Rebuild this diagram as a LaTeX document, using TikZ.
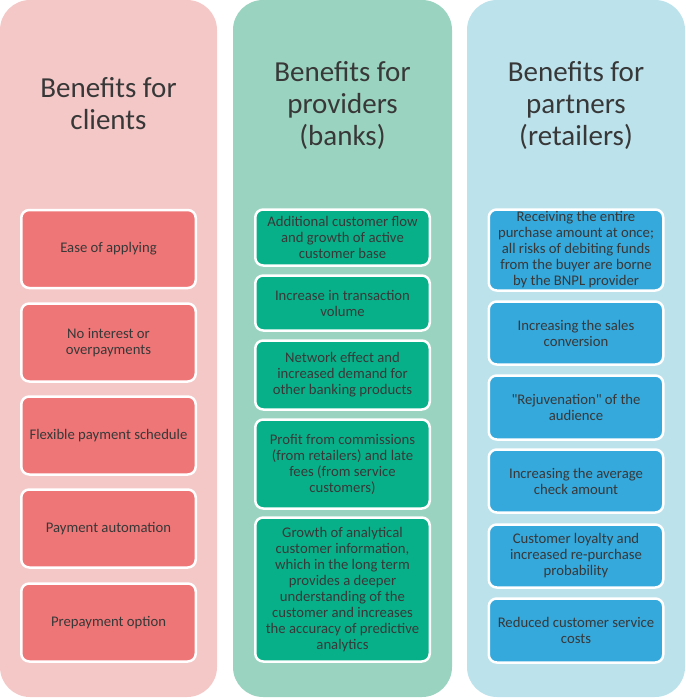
\documentclass[tikz,border=0pt]{standalone}
\usepackage{fontspec}
\setmainfont{Carlito}
\definecolor{clientbg}{HTML}{F5C8C8}
\definecolor{clientfg}{HTML}{EE7677}
\definecolor{bankbg}{HTML}{9AD3C0}
\definecolor{bankfg}{HTML}{08B089}
\definecolor{retailbg}{HTML}{BCE2EC}
\definecolor{retailfg}{HTML}{35A8DC}
\definecolor{inktext}{HTML}{383838}
\begin{document}
\begin{tikzpicture}[x=1pt,y=-1pt,
  panel/.style={rectangle,rounded corners=30pt,minimum width=217pt,minimum height=697pt,inner sep=0pt},
  heading/.style={align=center,text=inktext,font=\fontsize{29}{32}\selectfont},
  item/.style={rectangle,rounded corners=8pt,draw=white,line width=2.5pt,minimum width=174.5pt,
    align=center,text=inktext,inner sep=0pt,font=\fontsize{14.7}{16}\selectfont},
  clientbox/.style={item,fill=clientfg},
  bankbox/.style={item,fill=bankfg},
  retailbox/.style={item,fill=retailfg}]
\useasboundingbox (0,0) rectangle (685,698);
\node[panel,fill=clientbg] (clients) at (108.5,348.5) {};
\node[panel,fill=bankbg,minimum width=219pt] (banks) at (342.5,348.5) {};
\node[panel,fill=retailbg,minimum width=218pt] (retailers) at (576,348.5) {};
\node[heading] (clientstitle) at (108.5,103.5) {Benefits for\\clients};
\node[heading] (bankstitle) at (342.5,105) {Benefits for\\providers\\(banks)};
\node[heading] (retailerstitle) at (576,105) {Benefits for\\partners\\(retailers)};
\node[clientbox,minimum height=78pt] (c1) at (108.5,249) {Ease of applying};
\node[clientbox,minimum height=78pt] (c2) at (108.5,342.5) {No interest or\\overpayments};
\node[clientbox,minimum height=78pt] (c3) at (108.5,435.5) {Flexible payment schedule};
\node[clientbox,minimum height=78pt] (c4) at (108.5,528.5) {Payment automation};
\node[clientbox,minimum height=78pt] (c5) at (108.5,622.5) {Prepayment option};
\node[bankbox,minimum height=56pt] (b1) at (342.5,237.5) {Additional customer flow\\and growth of active\\customer base};
\node[bankbox,minimum height=55pt] (b2) at (342.5,303) {Increase in transaction\\volume};
\node[bankbox,minimum height=69pt] (b3) at (342.5,375) {Network effect and\\increased demand for\\other banking products};
\node[bankbox,minimum height=89pt] (b4) at (342.5,464) {Profit from commissions\\(from retailers) and late\\fees (from service\\customers)};
\node[bankbox,minimum height=144pt] (b5) at (342.5,589.5) {Growth of analytical\\customer information,\\which in the long term\\provides a deeper\\understanding of the\\customer and increases\\the accuracy of predictive\\analytics};
\node[retailbox,minimum height=81pt] (r1) at (576,250) {Receiving the entire\\purchase amount at once;\\all risks of debiting funds\\from the buyer are borne\\by the BNPL provider};
\node[retailbox,minimum height=63pt] (r2) at (576,333) {Increasing the sales\\conversion};
\node[retailbox,minimum height=64pt] (r3) at (576,407.5) {\textquotedbl Rejuvenation\textquotedbl\ of the\\audience};
\node[retailbox,minimum height=63pt] (r4) at (576,481) {Increasing the average\\check amount};
\node[retailbox,minimum height=63pt] (r5) at (576,556) {Customer loyalty and\\increased re-purchase\\probability};
\node[retailbox,minimum height=64pt] (r6) at (576,630.5) {Reduced customer service\\costs};
\end{tikzpicture}
\end{document}
